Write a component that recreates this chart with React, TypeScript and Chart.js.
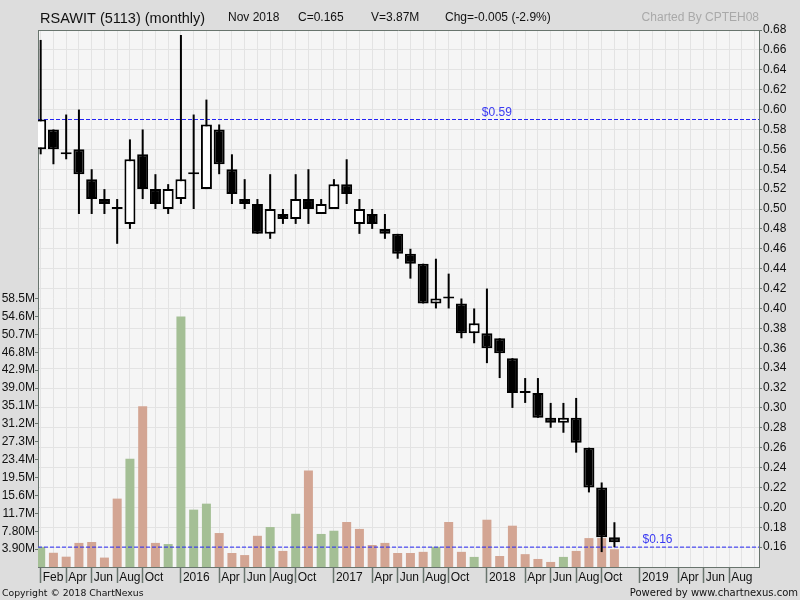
import React, { useEffect, useRef } from "react";
import { Chart, registerables } from "chart.js";

Chart.register(...registerables);

// ---------- data ----------
const MONTHS = [
  "Feb 2015", "Mar 2015", "Apr 2015", "May 2015", "Jun 2015", "Jul 2015", "Aug 2015", "Sep 2015", "Oct 2015", "Nov 2015", "Dec 2015",
  "Jan 2016", "Feb 2016", "Mar 2016", "Apr 2016", "May 2016", "Jun 2016", "Jul 2016", "Aug 2016", "Sep 2016", "Oct 2016", "Nov 2016", "Dec 2016",
  "Jan 2017", "Feb 2017", "Mar 2017", "Apr 2017", "May 2017", "Jun 2017", "Jul 2017", "Aug 2017", "Sep 2017", "Oct 2017", "Nov 2017", "Dec 2017",
  "Jan 2018", "Feb 2018", "Mar 2018", "Apr 2018", "May 2018", "Jun 2018", "Jul 2018", "Aug 2018", "Sep 2018", "Oct 2018", "Nov 2018",
];

const OPEN = [
  0.56, 0.58, 0.555, 0.56, 0.53, 0.51, 0.5, 0.485, 0.555, 0.52, 0.5,
  0.51, 0.535, 0.52, 0.58, 0.54, 0.51, 0.505, 0.475, 0.495, 0.49, 0.51, 0.495,
  0.5, 0.525, 0.485, 0.495, 0.48, 0.475, 0.455, 0.445, 0.405, 0.41, 0.405, 0.375,
  0.375, 0.37, 0.35, 0.315, 0.315, 0.29, 0.285, 0.29, 0.26, 0.22, 0.17,
];
const HIGH = [
  0.67, 0.58, 0.595, 0.6, 0.54, 0.52, 0.51, 0.57, 0.58, 0.535, 0.525,
  0.675, 0.595, 0.61, 0.585, 0.555, 0.53, 0.51, 0.535, 0.5, 0.535, 0.54, 0.51,
  0.53, 0.55, 0.51, 0.5, 0.495, 0.475, 0.46, 0.445, 0.45, 0.435, 0.41, 0.4,
  0.42, 0.37, 0.35, 0.33, 0.33, 0.305, 0.305, 0.31, 0.26, 0.225, 0.185,
];
const LOW = [
  0.555, 0.545, 0.55, 0.495, 0.495, 0.495, 0.465, 0.48, 0.51, 0.5, 0.495,
  0.505, 0.5, 0.52, 0.535, 0.505, 0.5, 0.475, 0.47, 0.485, 0.485, 0.485, 0.495,
  0.5, 0.505, 0.475, 0.48, 0.47, 0.45, 0.43, 0.405, 0.4, 0.4, 0.37, 0.365,
  0.345, 0.33, 0.3, 0.305, 0.29, 0.28, 0.275, 0.255, 0.215, 0.155, 0.16,
];
const CLOSE = [
  0.59, 0.56, 0.555, 0.535, 0.51, 0.505, 0.5, 0.55, 0.52, 0.505, 0.52,
  0.53, 0.535, 0.585, 0.545, 0.515, 0.505, 0.475, 0.5, 0.49, 0.51, 0.5, 0.505,
  0.525, 0.515, 0.5, 0.485, 0.475, 0.455, 0.445, 0.405, 0.41, 0.41, 0.375, 0.385,
  0.36, 0.355, 0.315, 0.315, 0.29, 0.285, 0.29, 0.265, 0.22, 0.17, 0.165,
];
// monthly volume, millions of shares
const VOLUME_M = [
  4.4, 3.1, 2.25, 5.25, 5.45, 2.05, 14.9, 23.6, 35.0, 5.25, 5.0,
  54.6, 12.5, 13.8, 7.4, 3.05, 2.6, 6.8, 8.7, 3.5, 11.6, 21.0, 7.2,
  7.9, 9.8, 8.3, 4.8, 5.25, 3.05, 3.05, 3.3, 4.4, 9.8, 3.3, 2.2,
  10.3, 2.4, 9.0, 2.8, 1.75, 1.1, 2.2, 3.5, 6.3, 6.3, 3.87,
];

// x-axis tick labels, one slot per month from Feb 2015 to Oct 2019
const X_TICK_LABELS = [
  "Feb", "", "Apr", "", "Jun", "", "Aug", "", "Oct", "", "",
  "2016", "", "", "Apr", "", "Jun", "", "Aug", "", "Oct", "", "",
  "2017", "", "", "Apr", "", "Jun", "", "Aug", "", "Oct", "", "",
  "2018", "", "", "Apr", "", "Jun", "", "Aug", "", "Oct", "", "",
  "2019", "", "", "Apr", "", "Jun", "", "Aug", "", "",
];
const PRICE_TICKS = [
  0.16, 0.18, 0.2, 0.22, 0.24, 0.26, 0.28, 0.3, 0.32, 0.34, 0.36, 0.38, 0.4,
  0.42, 0.44, 0.46, 0.48, 0.5, 0.52, 0.54, 0.56, 0.58, 0.6, 0.62, 0.64, 0.66, 0.68,
];
const VOLUME_TICKS_M = [3.9, 7.8, 11.7, 15.6, 19.5, 23.4, 27.3, 31.2, 35.1, 39.0, 42.9, 46.8, 50.7, 54.6, 58.5];
const LEVELS = [0.59, 0.16];

// ---------- layout / style constants ----------
const X_MIN = -0.21;
const X_MAX = 56.34;
const PRICE_MIN = 0.14;
const PRICE_MAX = 0.68;
const VOL_MAX_M = 117;
const LEVEL_LABEL_AT = [34.6, 47.2];

const FONT = '"Liberation Sans", Arial, sans-serif';
const AXIS_COLOR = "#68746d";
const GRID_COLOR = "#e3e3e3";
const UP_VOL = "#a4bf95";
const DOWN_VOL = "#d3a593";
const LEVEL_COLOR = "#2424f4";

const chromePlugin = {
  id: "chrome",
  beforeDraw(chart: any) {
    const { ctx, chartArea: a, width, height } = chart;
    ctx.save();
    ctx.fillStyle = "#dddddd";
    ctx.fillRect(0, 0, width, height);
    ctx.fillStyle = "#f5f5f5";
    ctx.fillRect(a.left, a.top, a.right - a.left, a.bottom - a.top);
    ctx.restore();
  },
  afterDatasetsDraw(chart: any) {
    const { ctx } = chart;
    const xs = chart.scales.x;
    const ys = chart.scales.y;
    ctx.save();
    ctx.font = `12px ${FONT}`;
    ctx.fillStyle = "#3a3af2";
    ctx.textBaseline = "alphabetic";
    ctx.textAlign = "left";
    LEVELS.forEach((lv, i) => {
      ctx.fillText(`$${lv.toFixed(2)}`, xs.getPixelForValue(LEVEL_LABEL_AT[i]), ys.getPixelForValue(lv) - 4);
    });
    ctx.restore();
  },
  afterDraw(chart: any) {
    const { ctx, chartArea: a } = chart;
    ctx.save();
    // top frame line
    ctx.strokeStyle = AXIS_COLOR;
    ctx.lineWidth = 1;
    ctx.beginPath();
    ctx.moveTo(a.left, a.top + 0.5);
    ctx.lineTo(a.right, a.top + 0.5);
    ctx.stroke();

    const n = CLOSE.length - 1;
    const chg = CLOSE[n] - CLOSE[n - 1];
    const pct = (chg / CLOSE[n - 1]) * 100;

    ctx.textBaseline = "alphabetic";
    ctx.fillStyle = "#111111";
    ctx.textAlign = "left";
    ctx.font = `14.5px ${FONT}`;
    ctx.fillText("RSAWIT (5113) (monthly)", 40, 23);
    ctx.font = `12px ${FONT}`;
    ctx.fillText(MONTHS[n], 228, 21);
    ctx.fillText(`C=${CLOSE[n].toFixed(3)}`, 298, 21);
    ctx.fillText(`V=${VOLUME_M[n].toFixed(2)}M`, 371, 21);
    ctx.fillText(`Chg=${chg.toFixed(3)} (${pct.toFixed(1)}%)`, 445, 21);
    ctx.fillStyle = "#a9a9a9";
    ctx.textAlign = "right";
    ctx.fillText("Charted By CPTEH08", 759, 21);

    ctx.fillStyle = "#111111";
    ctx.font = `9.3px "DejaVu Sans", sans-serif`;
    ctx.textAlign = "left";
    ctx.fillText("Copyright \u00a9 2018 ChartNexus", 2, 596);
    ctx.font = `10px "DejaVu Sans", sans-serif`;
    ctx.textAlign = "right";
    ctx.fillText("Powered by www.chartnexus.com", 798, 596);
    ctx.restore();
  },
};

export default function App() {
  const canvasRef = useRef<HTMLCanvasElement | null>(null);

  useEffect(() => {
    const canvas = canvasRef.current;
    if (!canvas) return;

    const bodyColors = MONTHS.map((_, i) => (CLOSE[i] > OPEN[i] ? "#ffffff" : "#000000"));
    const volColors = MONTHS.map((_, i) => {
      const up = i === 0 ? CLOSE[i] > OPEN[i] : CLOSE[i] > CLOSE[i - 1];
      return up ? UP_VOL : DOWN_VOL;
    });

    const levelSets = LEVELS.map((lv) => ({
      type: "line" as const,
      label: `$${lv}`,
      data: [
        { x: X_MIN, y: lv },
        { x: X_MAX, y: lv },
      ],
      xAxisID: "x",
      yAxisID: "y",
      borderColor: LEVEL_COLOR,
      borderWidth: 1,
      borderDash: [4, 2],
      pointRadius: 0,
      fill: false,
      order: 3,
    }));

    const chart = new Chart(canvas, {
      type: "bar",
      data: {
        datasets: [
          {
            type: "bar",
            label: "Body",
            data: MONTHS.map((_, i) => ({ x: i, y: [OPEN[i], CLOSE[i]] })) as any,
            xAxisID: "x",
            yAxisID: "y",
            backgroundColor: bodyColors,
            borderColor: "#000000",
            borderWidth: 2,
            borderSkipped: false,
            barThickness: 11,
            minBarLength: 2,
            grouped: false,
            inflateAmount: 0,
            clip: 0,
            order: 1,
          } as any,
          {
            type: "bar",
            label: "Wick",
            data: MONTHS.map((_, i) => ({ x: i, y: [LOW[i], HIGH[i]] })) as any,
            xAxisID: "x",
            yAxisID: "y",
            backgroundColor: "#000000",
            borderWidth: 0,
            barThickness: 2,
            grouped: false,
            inflateAmount: 0,
            clip: 0,
            order: 2,
          } as any,
          ...(levelSets as any[]),
          {
            type: "bar",
            label: "Volume",
            data: MONTHS.map((_, i) => ({ x: i, y: VOLUME_M[i] * 1e6 })) as any,
            xAxisID: "x",
            yAxisID: "yv",
            backgroundColor: volColors,
            borderWidth: 0,
            barThickness: 9,
            grouped: false,
            inflateAmount: 0,
            clip: 0,
            order: 5,
          } as any,
        ],
      },
      options: {
        animation: false,
        responsive: false,
        maintainAspectRatio: false,
        devicePixelRatio: 1,
        layout: { padding: { top: 30, left: 0, right: 0, bottom: 0 } },
        plugins: { legend: { display: false }, tooltip: { enabled: false }, title: { display: false } },
        scales: {
          x: {
            type: "linear",
            position: "bottom",
            offset: false,
            min: X_MIN,
            max: X_MAX,
            afterBuildTicks: (s: any) => {
              s.ticks = X_TICK_LABELS.map((_, i) => ({ value: i }));
            },
            afterFit: (s: any) => {
              s.height = 33;
            },
            ticks: {
              autoSkip: false,
              maxRotation: 0,
              minRotation: 0,
              align: "start",
              labelOffset: 2,
              padding: -13,
              color: "#111111",
              font: { family: FONT, size: 12 },
              callback: (_v: any, i: number) => X_TICK_LABELS[i] ?? "",
            },
            grid: {
              offset: false,
              color: GRID_COLOR,
              lineWidth: 1,
              drawTicks: true,
              tickLength: 16,
              tickWidth: 1.5,
              tickColor: (c: any) => (X_TICK_LABELS[c.index] ? AXIS_COLOR : "rgba(0,0,0,0)"),
            },
            border: { display: true, color: AXIS_COLOR, width: 1 },
          } as any,
          y: {
            type: "linear",
            position: "right",
            min: PRICE_MIN,
            max: PRICE_MAX,
            afterBuildTicks: (s: any) => {
              s.ticks = PRICE_TICKS.map((v) => ({ value: v }));
            },
            afterFit: (s: any) => {
              s.width = 41;
            },
            ticks: {
              padding: 1,
              color: "#111111",
              font: { family: FONT, size: 12 },
              callback: (v: any) => Number(v).toFixed(2),
            },
            grid: { color: GRID_COLOR, lineWidth: 1, tickLength: 3, tickColor: AXIS_COLOR },
            border: { display: true, color: AXIS_COLOR, width: 1 },
          } as any,
          yv: {
            type: "linear",
            position: "left",
            min: 0,
            max: VOL_MAX_M * 1e6,
            afterBuildTicks: (s: any) => {
              s.ticks = VOLUME_TICKS_M.map((v) => ({ value: v * 1e6 }));
            },
            afterFit: (s: any) => {
              s.width = 38;
            },
            ticks: {
              padding: 0,
              color: "#111111",
              font: { family: FONT, size: 12 },
              callback: (v: any) => (Number(v) / 1e6).toPrecision(3) + "M",
            },
            grid: { drawOnChartArea: false, tickLength: 3, tickColor: AXIS_COLOR },
            border: { display: true, color: AXIS_COLOR, width: 1 },
          } as any,
        },
      },
      plugins: [chromePlugin],
    });

    return () => chart.destroy();
  }, []);

  return (
    <div style={{ position: "fixed", left: 0, top: 0, width: 800, height: 600, background: "#dddddd" }}>
      <canvas ref={canvasRef} width={800} height={600} style={{ display: "block", width: 800, height: 600 }} />
    </div>
  );
}
